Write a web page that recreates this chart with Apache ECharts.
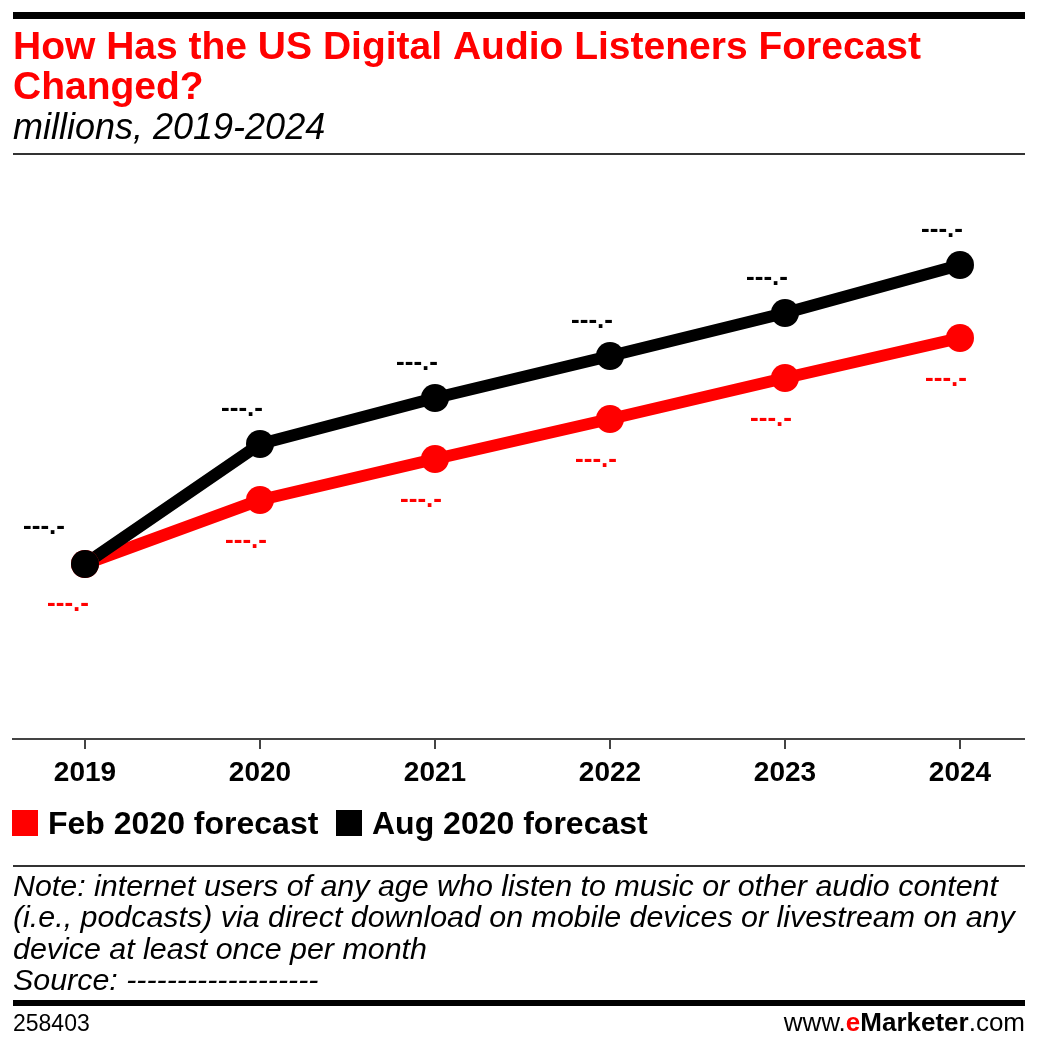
<!DOCTYPE html>
<html><head><meta charset="utf-8">
<script src="https://cdn.jsdelivr.net/npm/echarts@6/dist/echarts.min.js"></script>
<style>html,body{margin:0;padding:0;background:#fff}#c{width:1038px;height:1052px}</style>
</head><body><div id="c"></div>
<script>
const years = ['2019','2020','2021','2022','2023','2024'];
const febForecast = [212.5, 218.9, 223.0, 227.0, 231.1, 235.1];
const augForecast = [212.5, 224.5, 229.1, 233.3, 237.6, 242.4];
const seriesNames = ['Feb 2020 forecast', 'Aug 2020 forecast'];
const maskedLabel = '---.-';

const chart = echarts.init(document.getElementById('c'));
const SANS = "'Liberation Sans',Arial,sans-serif";

function mkData(vals, firstOffset, offset) {
  return vals.map((v, i) => ({
    value: v,
    label: { offset: i === 0 ? firstOffset : offset }
  }));
}

chart.setOption({
  animation: false,
  grid: { left: 85, right: 78, top: 189, bottom: 313 },
  xAxis: {
    type: 'category', data: years, boundaryGap: false,
    axisLine: { show: false },
    axisTick: { show: true, length: 10, lineStyle: { color: '#444', width: 2 }, alignWithLabel: true },
    axisLabel: { color: '#000', fontFamily: SANS, fontWeight: 'bold', fontSize: 28, margin: 20 }
  },
  yAxis: { type: 'value', min: 195, max: 250, show: false, splitLine: { show: false } },
  series: [
    {
      name: seriesNames[0], type: 'line', data: mkData(febForecast, [-17, 40], [-14, 41]),
      color: '#ff0000', lineStyle: { width: 12, color: '#ff0000' },
      symbol: 'circle', symbolSize: 28, itemStyle: { color: '#ff0000' },
      label: { show: true, position: 'inside', formatter: () => maskedLabel,
        color: '#ff0000', fontFamily: SANS, fontWeight: 'bold', fontSize: 26 }
    },
    {
      name: seriesNames[1], type: 'line', data: mkData(augForecast, [-41, -37], [-18, -35]),
      color: '#000', lineStyle: { width: 12, color: '#000' },
      symbol: 'circle', symbolSize: 28, itemStyle: { color: '#000' },
      label: { show: true, position: 'inside', formatter: () => maskedLabel,
        color: '#000', fontFamily: SANS, fontWeight: 'bold', fontSize: 26 }
    }
  ],
  graphic: [
    { type: 'rect', shape: { x: 13, y: 12, width: 1012, height: 7 }, style: { fill: '#000' } },
    { type: 'text', left: 13, top: 28, style: { text: 'How Has the US Digital Audio Listeners Forecast\nChanged?', fill: '#ff0000', font: "bold 39px 'Liberation Sans',Arial,sans-serif", lineHeight: 40 } },
    { type: 'text', left: 13, top: 111, style: { text: 'millions, 2019-2024', fill: '#000', font: "italic 36px 'Liberation Sans',Arial,sans-serif" } },
    { type: 'rect', shape: { x: 13, y: 153, width: 1012, height: 2 }, style: { fill: '#333' } },
    { type: 'rect', shape: { x: 12, y: 738, width: 1013, height: 2 }, style: { fill: '#444' } },
    { type: 'rect', shape: { x: 12, y: 810, width: 26, height: 26 }, style: { fill: '#ff0000' } },
    { type: 'text', left: 48, top: 809, style: { text: seriesNames[0], fill: '#000', font: "bold 32px " + SANS } },
    { type: 'rect', shape: { x: 336, y: 810, width: 26, height: 26 }, style: { fill: '#000' } },
    { type: 'text', left: 372, top: 809, style: { text: seriesNames[1], fill: '#000', font: "bold 32px " + SANS } },
    { type: 'rect', shape: { x: 13, y: 865, width: 1012, height: 2 }, style: { fill: '#333' } },
    { type: 'text', left: 13, top: 872, style: { text: 'Note: internet users of any age who listen to music or other audio content\n(i.e., podcasts) via direct download on mobile devices or livestream on any\ndevice at least once per month\nSource: -------------------', fill: '#000', font: "italic 30.4px " + SANS, lineHeight: 31.3 } },
    { type: 'rect', shape: { x: 13, y: 1000, width: 1012, height: 6 }, style: { fill: '#000' } },
    { type: 'text', left: 13, top: 1013, style: { text: '258403', fill: '#000', font: "23px " + SANS } },
    { type: 'text', right: 13, top: 1011, style: {
        text: '{a|www.}{e|e}{m|Marketer}{a|.com}',
        rich: {
          a: { fill: '#000', font: "26px " + SANS },
          e: { fill: '#ff0000', font: "bold 26px " + SANS },
          m: { fill: '#000', font: "bold 26px " + SANS }
        } } }
  ]
});
</script></body></html>
